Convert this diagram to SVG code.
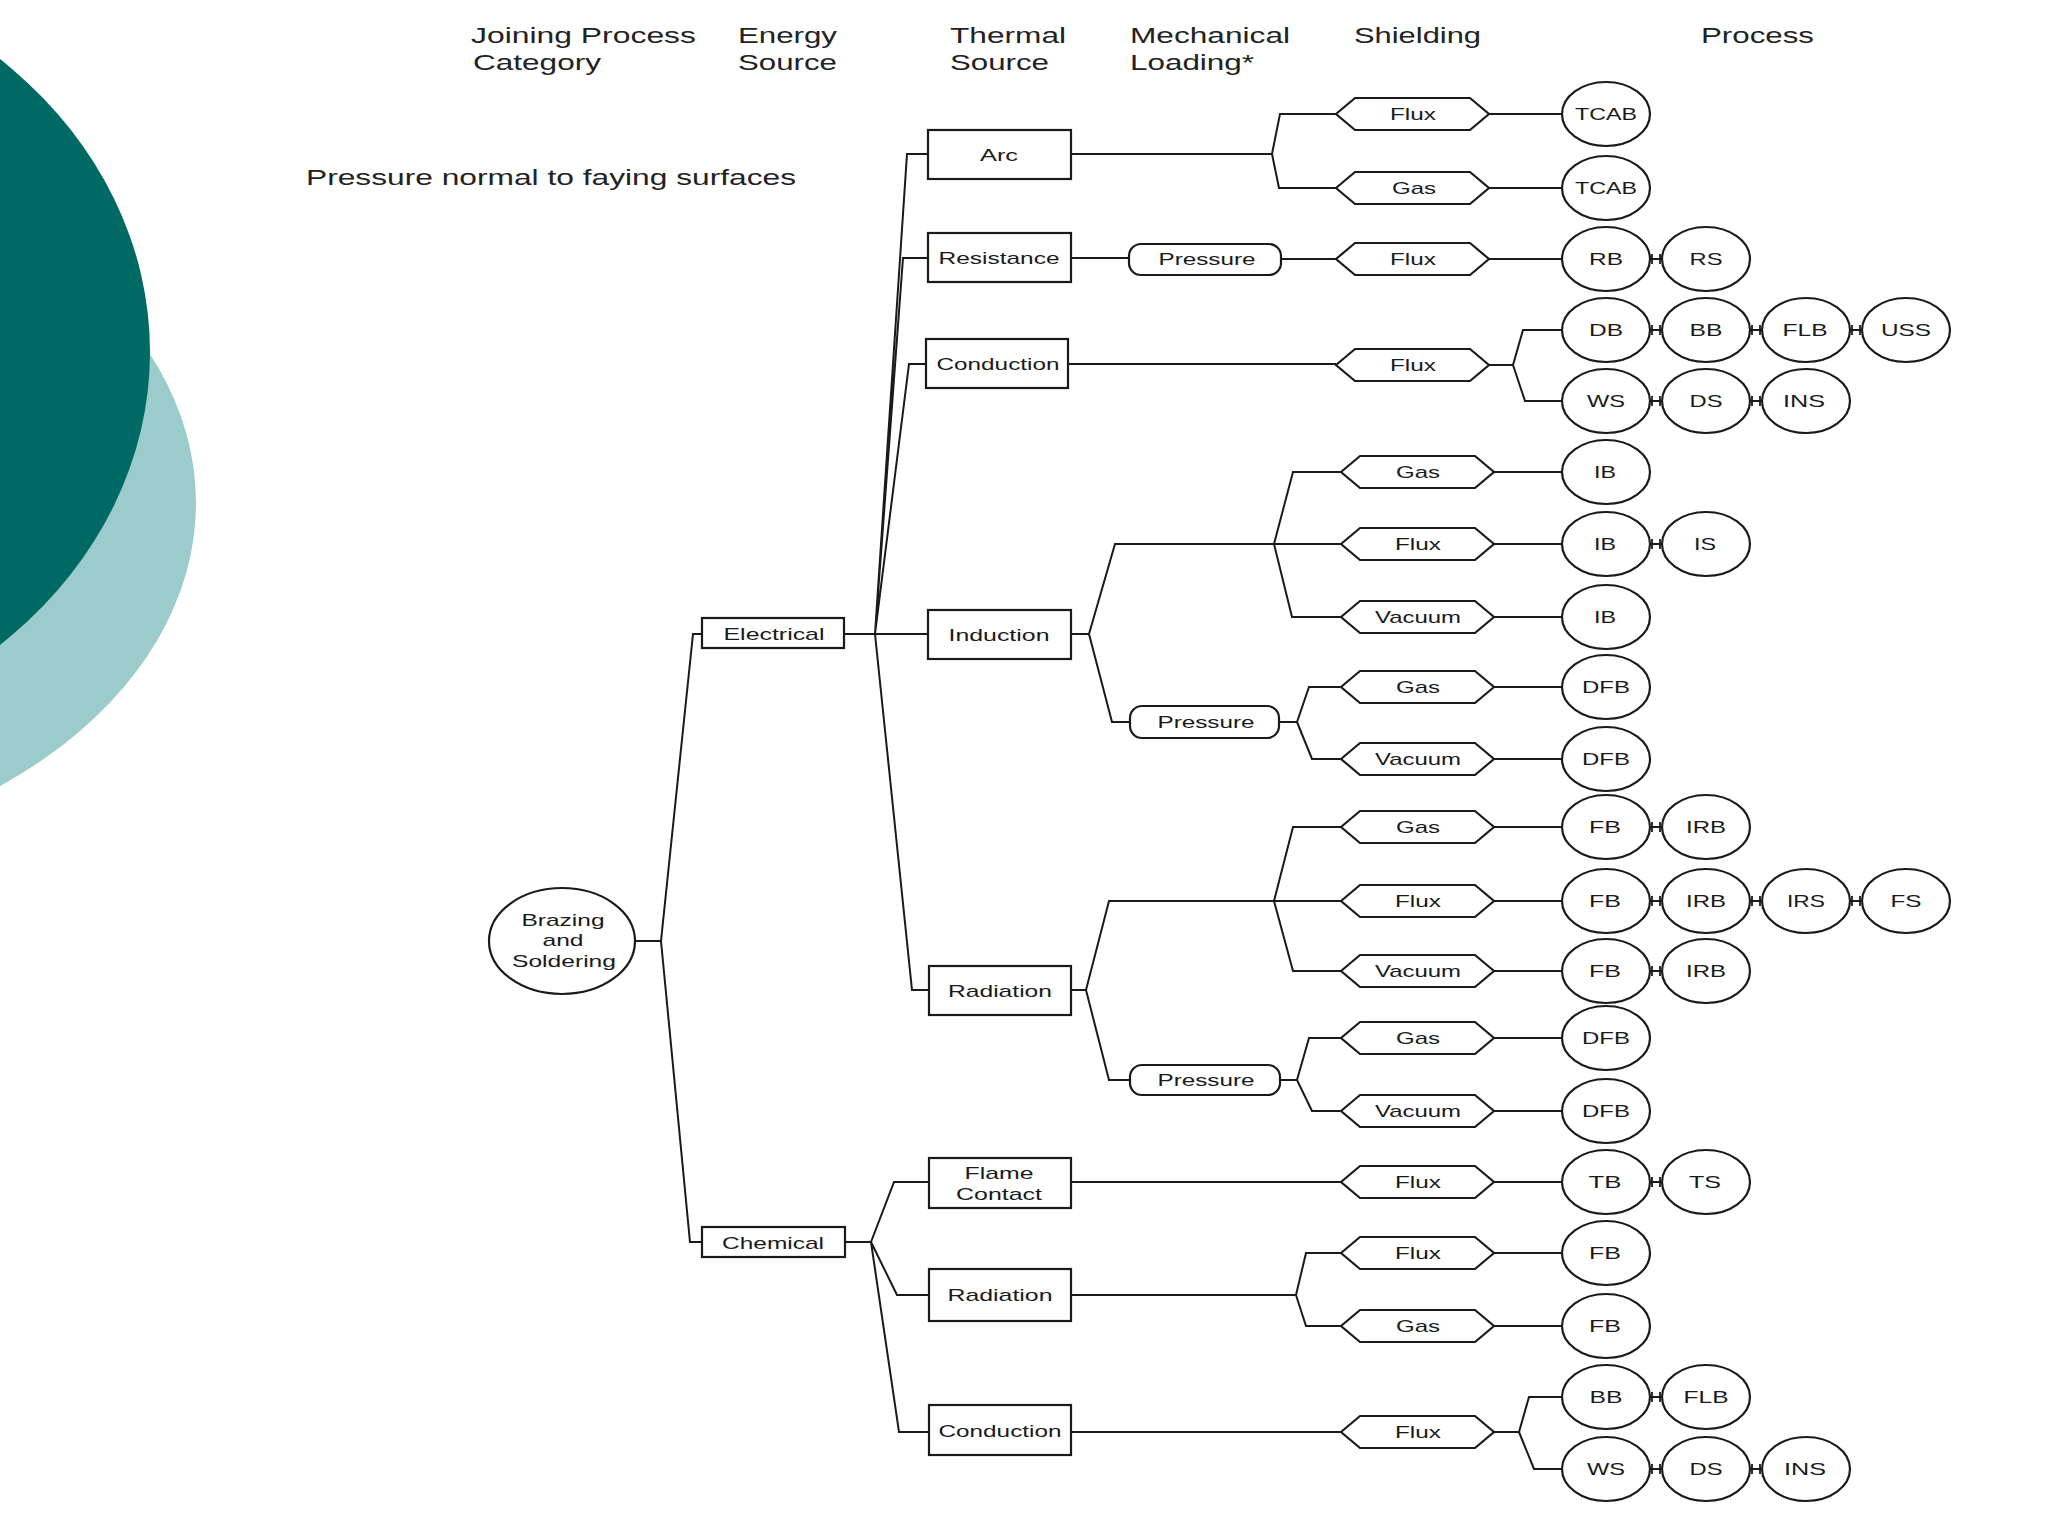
<svg xmlns="http://www.w3.org/2000/svg" width="2048" height="1536" viewBox="0 0 2048 1536">
<defs>
<style>
.ln{fill:none;stroke:#1a1a1a;stroke-width:2;stroke-linejoin:miter}
.bx{fill:#fff;stroke:#1a1a1a;stroke-width:2.2}
.t{font-family:"Liberation Sans",Arial,sans-serif;font-size:17px;fill:#1a1a1a;text-anchor:middle}
.h{font-family:"Liberation Sans",Arial,sans-serif;font-size:22px;fill:#222}
.tk{fill:none;stroke:#1a1a1a;stroke-width:1.8}
</style>
</defs>
<rect width="2048" height="1536" fill="#fff"/>
<g id="background">
<ellipse cx="-317" cy="503" rx="513" ry="360" fill="#9ccbcc"/>
<ellipse cx="-320" cy="352" rx="470" ry="400" fill="#006963"/>
</g>
<g id="headers">
<text class="h" x="471" y="43" textLength="225" lengthAdjust="spacingAndGlyphs">Joining Process</text>
<text class="h" x="473" y="70" textLength="128" lengthAdjust="spacingAndGlyphs">Category</text>
<text class="h" x="738" y="43" textLength="99" lengthAdjust="spacingAndGlyphs">Energy</text>
<text class="h" x="738" y="70" textLength="99" lengthAdjust="spacingAndGlyphs">Source</text>
<text class="h" x="950" y="43" textLength="116" lengthAdjust="spacingAndGlyphs">Thermal</text>
<text class="h" x="950" y="70" textLength="99" lengthAdjust="spacingAndGlyphs">Source</text>
<text class="h" x="1130" y="43" textLength="160" lengthAdjust="spacingAndGlyphs">Mechanical</text>
<text class="h" x="1130" y="70" textLength="124" lengthAdjust="spacingAndGlyphs">Loading*</text>
<text class="h" x="1354" y="43" textLength="127" lengthAdjust="spacingAndGlyphs">Shielding</text>
<text class="h" x="1701" y="43" textLength="113" lengthAdjust="spacingAndGlyphs">Process</text>
<text class="h" x="306" y="185" font-size="21" textLength="490" lengthAdjust="spacingAndGlyphs">Pressure normal to faying surfaces</text>
</g>
<g id="connectors">
<path class="ln" d="M636,941 H661 M661,941 L693,634 H702 M661,941 L690,1242 H702"/>
<path class="ln" d="M844,634 H928 M875,634 L907,154 H928 M875,634 L903,258 H928 M875,634 L909,364 H926 M875,634 L912,990 H929"/>
<path class="ln" d="M845,1242 H871 M871,1242 L894,1182 H929 M871,1242 L897,1295 H929 M871,1242 L899,1432 H929"/>
<path class="ln" d="M1071,154 H1272 M1272,154 L1280,114 H1336 M1272,154 L1279,188 H1336 M1489,114 H1562 M1489,188 H1562"/>
<path class="ln" d="M1071,258 H1129 M1281,259 H1336 M1489,259 H1562"/>
<path class="ln" d="M1068,364 H1336 M1489,365 H1513 L1523,330 H1562 M1513,365 L1525,401 H1562"/>
<path class="ln" d="M1071,634 H1089 L1115,544 H1274 M1089,634 L1112,722 H1130 M1274,544 L1293,472 H1341 M1274,544 H1341 M1274,544 L1292,617 H1341 M1279,722 H1297 L1309,687 H1341 M1297,722 L1312,759 H1341"/>
<path class="ln" d="M1494,472 H1562 M1494,544 H1562 M1494,617 H1562 M1494,687 H1562 M1494,759 H1562"/>
<path class="ln" d="M1071,990 H1086 L1109,901 H1274 M1086,990 L1109,1080 H1130 M1274,901 L1293,827 H1341 M1274,901 H1341 M1274,901 L1293,971 H1341 M1280,1080 H1297 L1309,1038 H1341 M1297,1080 L1312,1111 H1341"/>
<path class="ln" d="M1494,827 H1562 M1494,901 H1562 M1494,971 H1562 M1494,1038 H1562 M1494,1111 H1562"/>
<path class="ln" d="M1071,1182 H1341 M1494,1182 H1562 M1071,1295 H1296 L1306,1253 H1341 M1296,1295 L1306,1326 H1341 M1494,1253 H1562 M1494,1326 H1562 M1071,1432 H1341 M1494,1432 H1519 L1529,1397 H1562 M1519,1432 L1534,1469 H1562"/>
<path class="tk" d="M1650,259 H1662 M1652,254 V264 M1660,254 V264
M1650,330 H1662 M1652,325 V335 M1660,325 V335 M1750,330 H1762 M1752,325 V335 M1760,325 V335 M1850,330 H1862 M1852,325 V335 M1860,325 V335
M1650,401 H1662 M1652,396 V406 M1660,396 V406 M1750,401 H1762 M1752,396 V406 M1760,396 V406
M1650,544 H1662 M1652,539 V549 M1660,539 V549
M1650,827 H1662 M1652,822 V832 M1660,822 V832
M1650,901 H1662 M1652,896 V906 M1660,896 V906 M1750,901 H1762 M1752,896 V906 M1760,896 V906 M1850,901 H1862 M1852,896 V906 M1860,896 V906
M1650,971 H1662 M1652,966 V976 M1660,966 V976
M1650,1182 H1662 M1652,1177 V1187 M1660,1177 V1187
M1650,1397 H1662 M1652,1392 V1402 M1660,1392 V1402
M1650,1469 H1662 M1652,1464 V1474 M1660,1464 V1474 M1750,1469 H1762 M1752,1464 V1474 M1760,1464 V1474"/>
</g>
<g id="n-brazing"><ellipse class="bx" cx="562" cy="941" rx="73" ry="53"/>
<text class="t" font-size="18" x="563" y="926" textLength="83" lengthAdjust="spacingAndGlyphs">Brazing</text>
<text class="t" font-size="18" x="563" y="946" textLength="41" lengthAdjust="spacingAndGlyphs">and</text>
<text class="t" font-size="18" x="564" y="967" textLength="104" lengthAdjust="spacingAndGlyphs">Soldering</text></g>
<g id="n-electrical"><rect class="bx" x="702" y="618" width="142" height="30"/><text class="t" x="774" y="640" textLength="101" lengthAdjust="spacingAndGlyphs">Electrical</text></g>
<g id="n-chemical"><rect class="bx" x="702" y="1227" width="143" height="30"/><text class="t" x="773" y="1249" textLength="102" lengthAdjust="spacingAndGlyphs">Chemical</text></g>
<g id="n-arc"><rect class="bx" x="928" y="130" width="143" height="49"/><text class="t" x="999" y="161" textLength="38" lengthAdjust="spacingAndGlyphs">Arc</text></g>
<g id="n-resistance"><rect class="bx" x="928" y="233" width="143" height="49"/><text class="t" x="999" y="264" textLength="121" lengthAdjust="spacingAndGlyphs">Resistance</text></g>
<g id="n-conduction-e"><rect class="bx" x="926" y="339" width="142" height="49"/><text class="t" x="998" y="370" textLength="123" lengthAdjust="spacingAndGlyphs">Conduction</text></g>
<g id="n-induction"><rect class="bx" x="928" y="610" width="143" height="49"/><text class="t" x="999" y="641" textLength="101" lengthAdjust="spacingAndGlyphs">Induction</text></g>
<g id="n-radiation-e"><rect class="bx" x="929" y="966" width="142" height="49"/><text class="t" x="1000" y="997" textLength="104" lengthAdjust="spacingAndGlyphs">Radiation</text></g>
<g id="n-flame"><rect class="bx" x="929" y="1158" width="142" height="50"/><text class="t" x="999" y="1179" textLength="69" lengthAdjust="spacingAndGlyphs">Flame</text><text class="t" x="999" y="1200" textLength="86" lengthAdjust="spacingAndGlyphs">Contact</text></g>
<g id="n-radiation-c"><rect class="bx" x="929" y="1269" width="142" height="52"/><text class="t" x="1000" y="1301" textLength="105" lengthAdjust="spacingAndGlyphs">Radiation</text></g>
<g id="n-conduction-c"><rect class="bx" x="929" y="1405" width="142" height="50"/><text class="t" x="1000" y="1437" textLength="123" lengthAdjust="spacingAndGlyphs">Conduction</text></g>
<g id="n-pressure-r"><rect class="bx" x="1129" y="244" width="152" height="31" rx="12"/><text class="t" x="1207" y="265" textLength="97" lengthAdjust="spacingAndGlyphs">Pressure</text></g>
<g id="n-pressure-i"><rect class="bx" x="1130" y="706" width="149" height="32" rx="12"/><text class="t" x="1206" y="728" textLength="97" lengthAdjust="spacingAndGlyphs">Pressure</text></g>
<g id="n-pressure-rd"><rect class="bx" x="1130" y="1065" width="150" height="30" rx="12"/><text class="t" x="1206" y="1086" textLength="97" lengthAdjust="spacingAndGlyphs">Pressure</text></g>
<g id="n-hex-arc-flux"><polygon class="bx" points="1336,114 1355,98 1470,98 1489,114 1470,130 1355,130"/><text class="t" x="1413" y="120" textLength="46" lengthAdjust="spacingAndGlyphs">Flux</text></g>
<g id="n-hex-arc-gas"><polygon class="bx" points="1336,188 1355,172 1470,172 1489,188 1470,204 1355,204"/><text class="t" x="1414" y="194" textLength="44" lengthAdjust="spacingAndGlyphs">Gas</text></g>
<g id="n-hex-res-flux"><polygon class="bx" points="1336,259 1355,243 1470,243 1489,259 1470,275 1355,275"/><text class="t" x="1413" y="265" textLength="46" lengthAdjust="spacingAndGlyphs">Flux</text></g>
<g id="n-hex-con-flux"><polygon class="bx" points="1336,365 1355,349 1470,349 1489,365 1470,381 1355,381"/><text class="t" x="1413" y="371" textLength="46" lengthAdjust="spacingAndGlyphs">Flux</text></g>
<g id="n-hex-ind-gas"><polygon class="bx" points="1341,472 1360,456 1475,456 1494,472 1475,488 1360,488"/><text class="t" x="1418" y="478" textLength="44" lengthAdjust="spacingAndGlyphs">Gas</text></g>
<g id="n-hex-ind-flux"><polygon class="bx" points="1341,544 1360,528 1475,528 1494,544 1475,560 1360,560"/><text class="t" x="1418" y="550" textLength="46" lengthAdjust="spacingAndGlyphs">Flux</text></g>
<g id="n-hex-ind-vac"><polygon class="bx" points="1341,617 1360,601 1475,601 1494,617 1475,633 1360,633"/><text class="t" x="1418" y="623" textLength="86" lengthAdjust="spacingAndGlyphs">Vacuum</text></g>
<g id="n-hex-indp-gas"><polygon class="bx" points="1341,687 1360,671 1475,671 1494,687 1475,703 1360,703"/><text class="t" x="1418" y="693" textLength="44" lengthAdjust="spacingAndGlyphs">Gas</text></g>
<g id="n-hex-indp-vac"><polygon class="bx" points="1341,759 1360,743 1475,743 1494,759 1475,775 1360,775"/><text class="t" x="1418" y="765" textLength="86" lengthAdjust="spacingAndGlyphs">Vacuum</text></g>
<g id="n-hex-rad-gas"><polygon class="bx" points="1341,827 1360,811 1475,811 1494,827 1475,843 1360,843"/><text class="t" x="1418" y="833" textLength="44" lengthAdjust="spacingAndGlyphs">Gas</text></g>
<g id="n-hex-rad-flux"><polygon class="bx" points="1341,901 1360,885 1475,885 1494,901 1475,917 1360,917"/><text class="t" x="1418" y="907" textLength="46" lengthAdjust="spacingAndGlyphs">Flux</text></g>
<g id="n-hex-rad-vac"><polygon class="bx" points="1341,971 1360,955 1475,955 1494,971 1475,987 1360,987"/><text class="t" x="1418" y="977" textLength="86" lengthAdjust="spacingAndGlyphs">Vacuum</text></g>
<g id="n-hex-radp-gas"><polygon class="bx" points="1341,1038 1360,1022 1475,1022 1494,1038 1475,1054 1360,1054"/><text class="t" x="1418" y="1044" textLength="44" lengthAdjust="spacingAndGlyphs">Gas</text></g>
<g id="n-hex-radp-vac"><polygon class="bx" points="1341,1111 1360,1095 1475,1095 1494,1111 1475,1127 1360,1127"/><text class="t" x="1418" y="1117" textLength="86" lengthAdjust="spacingAndGlyphs">Vacuum</text></g>
<g id="n-hex-fc-flux"><polygon class="bx" points="1341,1182 1360,1166 1475,1166 1494,1182 1475,1198 1360,1198"/><text class="t" x="1418" y="1188" textLength="46" lengthAdjust="spacingAndGlyphs">Flux</text></g>
<g id="n-hex-cr-flux"><polygon class="bx" points="1341,1253 1360,1237 1475,1237 1494,1253 1475,1269 1360,1269"/><text class="t" x="1418" y="1259" textLength="46" lengthAdjust="spacingAndGlyphs">Flux</text></g>
<g id="n-hex-cr-gas"><polygon class="bx" points="1341,1326 1360,1310 1475,1310 1494,1326 1475,1342 1360,1342"/><text class="t" x="1418" y="1332" textLength="44" lengthAdjust="spacingAndGlyphs">Gas</text></g>
<g id="n-hex-cc-flux"><polygon class="bx" points="1341,1432 1360,1416 1475,1416 1494,1432 1475,1448 1360,1448"/><text class="t" x="1418" y="1438" textLength="46" lengthAdjust="spacingAndGlyphs">Flux</text></g>
<g id="n-p-tcab1"><ellipse class="bx" cx="1606" cy="114" rx="44" ry="32"/><text class="t" x="1606" y="120" textLength="62" lengthAdjust="spacingAndGlyphs">TCAB</text></g>
<g id="n-p-tcab2"><ellipse class="bx" cx="1606" cy="188" rx="44" ry="32"/><text class="t" x="1606" y="194" textLength="62" lengthAdjust="spacingAndGlyphs">TCAB</text></g>
<g id="n-p-rb"><ellipse class="bx" cx="1606" cy="259" rx="44" ry="32"/><text class="t" x="1606" y="265" textLength="34" lengthAdjust="spacingAndGlyphs">RB</text></g>
<g id="n-p-rs"><ellipse class="bx" cx="1706" cy="259" rx="44" ry="32"/><text class="t" x="1706" y="265" textLength="33" lengthAdjust="spacingAndGlyphs">RS</text></g>
<g id="n-p-db"><ellipse class="bx" cx="1606" cy="330" rx="44" ry="32"/><text class="t" x="1606" y="336" textLength="34" lengthAdjust="spacingAndGlyphs">DB</text></g>
<g id="n-p-bb1"><ellipse class="bx" cx="1706" cy="330" rx="44" ry="32"/><text class="t" x="1706" y="336" textLength="33" lengthAdjust="spacingAndGlyphs">BB</text></g>
<g id="n-p-flb1"><ellipse class="bx" cx="1806" cy="330" rx="44" ry="32"/><text class="t" x="1805" y="336" textLength="45" lengthAdjust="spacingAndGlyphs">FLB</text></g>
<g id="n-p-uss"><ellipse class="bx" cx="1906" cy="330" rx="44" ry="32"/><text class="t" x="1906" y="336" textLength="50" lengthAdjust="spacingAndGlyphs">USS</text></g>
<g id="n-p-ws1"><ellipse class="bx" cx="1606" cy="401" rx="44" ry="32"/><text class="t" x="1606" y="407" textLength="38" lengthAdjust="spacingAndGlyphs">WS</text></g>
<g id="n-p-ds1"><ellipse class="bx" cx="1706" cy="401" rx="44" ry="32"/><text class="t" x="1706" y="407" textLength="33" lengthAdjust="spacingAndGlyphs">DS</text></g>
<g id="n-p-ins1"><ellipse class="bx" cx="1806" cy="401" rx="44" ry="32"/><text class="t" x="1804" y="407" textLength="42" lengthAdjust="spacingAndGlyphs">INS</text></g>
<g id="n-p-ib1"><ellipse class="bx" cx="1606" cy="472" rx="44" ry="32"/><text class="t" x="1605" y="478" textLength="22" lengthAdjust="spacingAndGlyphs">IB</text></g>
<g id="n-p-ib2"><ellipse class="bx" cx="1606" cy="544" rx="44" ry="32"/><text class="t" x="1605" y="550" textLength="22" lengthAdjust="spacingAndGlyphs">IB</text></g>
<g id="n-p-is"><ellipse class="bx" cx="1706" cy="544" rx="44" ry="32"/><text class="t" x="1705" y="550" textLength="22" lengthAdjust="spacingAndGlyphs">IS</text></g>
<g id="n-p-ib3"><ellipse class="bx" cx="1606" cy="617" rx="44" ry="32"/><text class="t" x="1605" y="623" textLength="22" lengthAdjust="spacingAndGlyphs">IB</text></g>
<g id="n-p-dfb1"><ellipse class="bx" cx="1606" cy="687" rx="44" ry="32"/><text class="t" x="1606" y="693" textLength="48" lengthAdjust="spacingAndGlyphs">DFB</text></g>
<g id="n-p-dfb2"><ellipse class="bx" cx="1606" cy="759" rx="44" ry="32"/><text class="t" x="1606" y="765" textLength="48" lengthAdjust="spacingAndGlyphs">DFB</text></g>
<g id="n-p-fb1"><ellipse class="bx" cx="1606" cy="827" rx="44" ry="32"/><text class="t" x="1605" y="833" textLength="32" lengthAdjust="spacingAndGlyphs">FB</text></g>
<g id="n-p-irb1"><ellipse class="bx" cx="1706" cy="827" rx="44" ry="32"/><text class="t" x="1706" y="833" textLength="40" lengthAdjust="spacingAndGlyphs">IRB</text></g>
<g id="n-p-fb2"><ellipse class="bx" cx="1606" cy="901" rx="44" ry="32"/><text class="t" x="1605" y="907" textLength="32" lengthAdjust="spacingAndGlyphs">FB</text></g>
<g id="n-p-irb2"><ellipse class="bx" cx="1706" cy="901" rx="44" ry="32"/><text class="t" x="1706" y="907" textLength="40" lengthAdjust="spacingAndGlyphs">IRB</text></g>
<g id="n-p-irs"><ellipse class="bx" cx="1806" cy="901" rx="44" ry="32"/><text class="t" x="1806" y="907" textLength="38" lengthAdjust="spacingAndGlyphs">IRS</text></g>
<g id="n-p-fs"><ellipse class="bx" cx="1906" cy="901" rx="44" ry="32"/><text class="t" x="1906" y="907" textLength="31" lengthAdjust="spacingAndGlyphs">FS</text></g>
<g id="n-p-fb3"><ellipse class="bx" cx="1606" cy="971" rx="44" ry="32"/><text class="t" x="1605" y="977" textLength="32" lengthAdjust="spacingAndGlyphs">FB</text></g>
<g id="n-p-irb3"><ellipse class="bx" cx="1706" cy="971" rx="44" ry="32"/><text class="t" x="1706" y="977" textLength="40" lengthAdjust="spacingAndGlyphs">IRB</text></g>
<g id="n-p-dfb3"><ellipse class="bx" cx="1606" cy="1038" rx="44" ry="32"/><text class="t" x="1606" y="1044" textLength="48" lengthAdjust="spacingAndGlyphs">DFB</text></g>
<g id="n-p-dfb4"><ellipse class="bx" cx="1606" cy="1111" rx="44" ry="32"/><text class="t" x="1606" y="1117" textLength="48" lengthAdjust="spacingAndGlyphs">DFB</text></g>
<g id="n-p-tb"><ellipse class="bx" cx="1606" cy="1182" rx="44" ry="32"/><text class="t" x="1605" y="1188" textLength="33" lengthAdjust="spacingAndGlyphs">TB</text></g>
<g id="n-p-ts"><ellipse class="bx" cx="1706" cy="1182" rx="44" ry="32"/><text class="t" x="1705" y="1188" textLength="32" lengthAdjust="spacingAndGlyphs">TS</text></g>
<g id="n-p-fb4"><ellipse class="bx" cx="1606" cy="1253" rx="44" ry="32"/><text class="t" x="1605" y="1259" textLength="32" lengthAdjust="spacingAndGlyphs">FB</text></g>
<g id="n-p-fb5"><ellipse class="bx" cx="1606" cy="1326" rx="44" ry="32"/><text class="t" x="1605" y="1332" textLength="32" lengthAdjust="spacingAndGlyphs">FB</text></g>
<g id="n-p-bb2"><ellipse class="bx" cx="1606" cy="1397" rx="44" ry="32"/><text class="t" x="1606" y="1403" textLength="33" lengthAdjust="spacingAndGlyphs">BB</text></g>
<g id="n-p-flb2"><ellipse class="bx" cx="1706" cy="1397" rx="44" ry="32"/><text class="t" x="1706" y="1403" textLength="45" lengthAdjust="spacingAndGlyphs">FLB</text></g>
<g id="n-p-ws2"><ellipse class="bx" cx="1606" cy="1469" rx="44" ry="32"/><text class="t" x="1606" y="1475" textLength="38" lengthAdjust="spacingAndGlyphs">WS</text></g>
<g id="n-p-ds2"><ellipse class="bx" cx="1706" cy="1469" rx="44" ry="32"/><text class="t" x="1706" y="1475" textLength="33" lengthAdjust="spacingAndGlyphs">DS</text></g>
<g id="n-p-ins2"><ellipse class="bx" cx="1806" cy="1469" rx="44" ry="32"/><text class="t" x="1805" y="1475" textLength="42" lengthAdjust="spacingAndGlyphs">INS</text></g>
</svg>
